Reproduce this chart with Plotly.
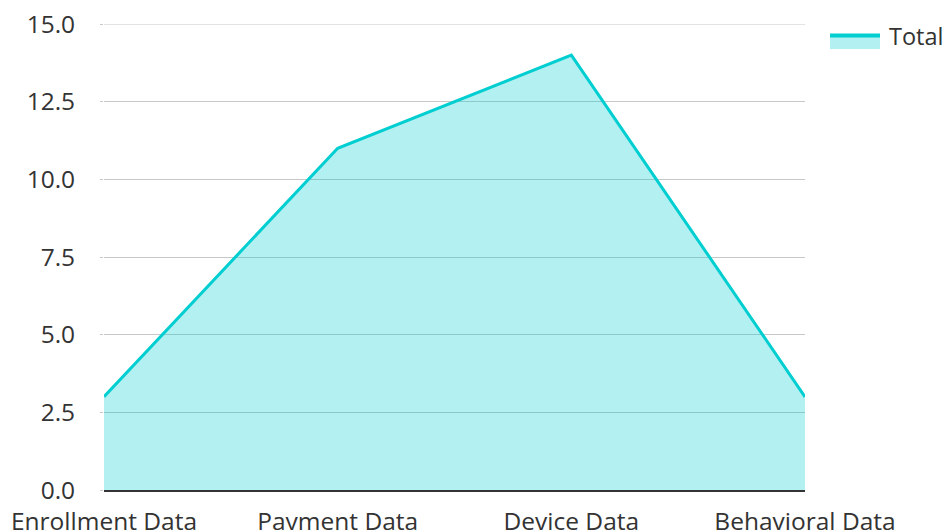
import plotly.graph_objects as go

categories = ["Enrollment Data", "Payment Data", "Device Data", "Behavioral Data"]
totals = [3, 11, 14, 3]
y_ticks = [0, 2.5, 5, 7.5, 10, 12.5, 15]
y_tick_labels = ["0.0", "2.5", "5.0", "7.5", "10.0", "12.5", "15.0"]
series_name = "Total"

LINE = "#00CED1"
FILL = "rgba(0,206,209,0.3)"
TXT = "#333333"
GRID = "#c8c8c8"
FS = 24.5

fig = go.Figure()
fig.add_trace(go.Scatter(
    x=categories, y=totals, name=series_name, mode="lines",
    line=dict(color=LINE, width=3),
    fill="tozeroy", fillcolor=FILL, showlegend=False,
))

# top gridline (plotly drops gridlines lying on the range edge)
fig.add_shape(type="line", xref="paper", yref="y", x0=0, x1=1,
              y0=y_ticks[-1], y1=y_ticks[-1], layer="below",
              line=dict(color=GRID, width=1))

# custom legend (swatch + label) to the right of the plot
fig.add_shape(type="rect", xref="paper", yref="paper",
              x0=1.0357, x1=1.107, y0=0.9464, y1=0.9721,
              fillcolor=FILL, line=dict(width=0))
fig.add_shape(type="line", xref="paper", yref="paper",
              x0=1.0357, x1=1.107, y0=0.9753, y1=0.9753,
              line=dict(color=LINE, width=4))
fig.add_annotation(text=series_name, xref="paper", yref="paper",
                   x=1.1166, y=0.9753, xanchor="left", yanchor="middle",
                   showarrow=False, font=dict(family="Open Sans", size=23.5, color=TXT))

fig.update_layout(
    width=944, height=530,
    margin=dict(l=104, r=139, t=24, b=40, autoexpand=False),
    paper_bgcolor="white", plot_bgcolor="white",
    font=dict(family="Open Sans", size=FS, color=TXT),
    showlegend=False,
    xaxis=dict(type="category", range=[0, 3], showgrid=False, automargin=False,
               showline=True, linecolor="#333333", linewidth=2,
               ticks="", ticklabelstandoff=9, ticklabeloverflow="allow",
               tickfont=dict(size=FS, color=TXT)),
    yaxis=dict(range=[0, 15], tickvals=y_ticks, ticktext=y_tick_labels, automargin=False,
               showgrid=True, gridcolor=GRID, gridwidth=1,
               zeroline=False, ticks="outside", ticklen=3, tickcolor=GRID,
               ticklabelstandoff=20, ticklabeloverflow="allow",
               tickfont=dict(size=FS, color=TXT)),
)

fig.write_html(
    "out.html",
    config={"displayModeBar": False},
    post_script="document.body.style.margin='0';document.body.style.overflow='hidden';",
)
